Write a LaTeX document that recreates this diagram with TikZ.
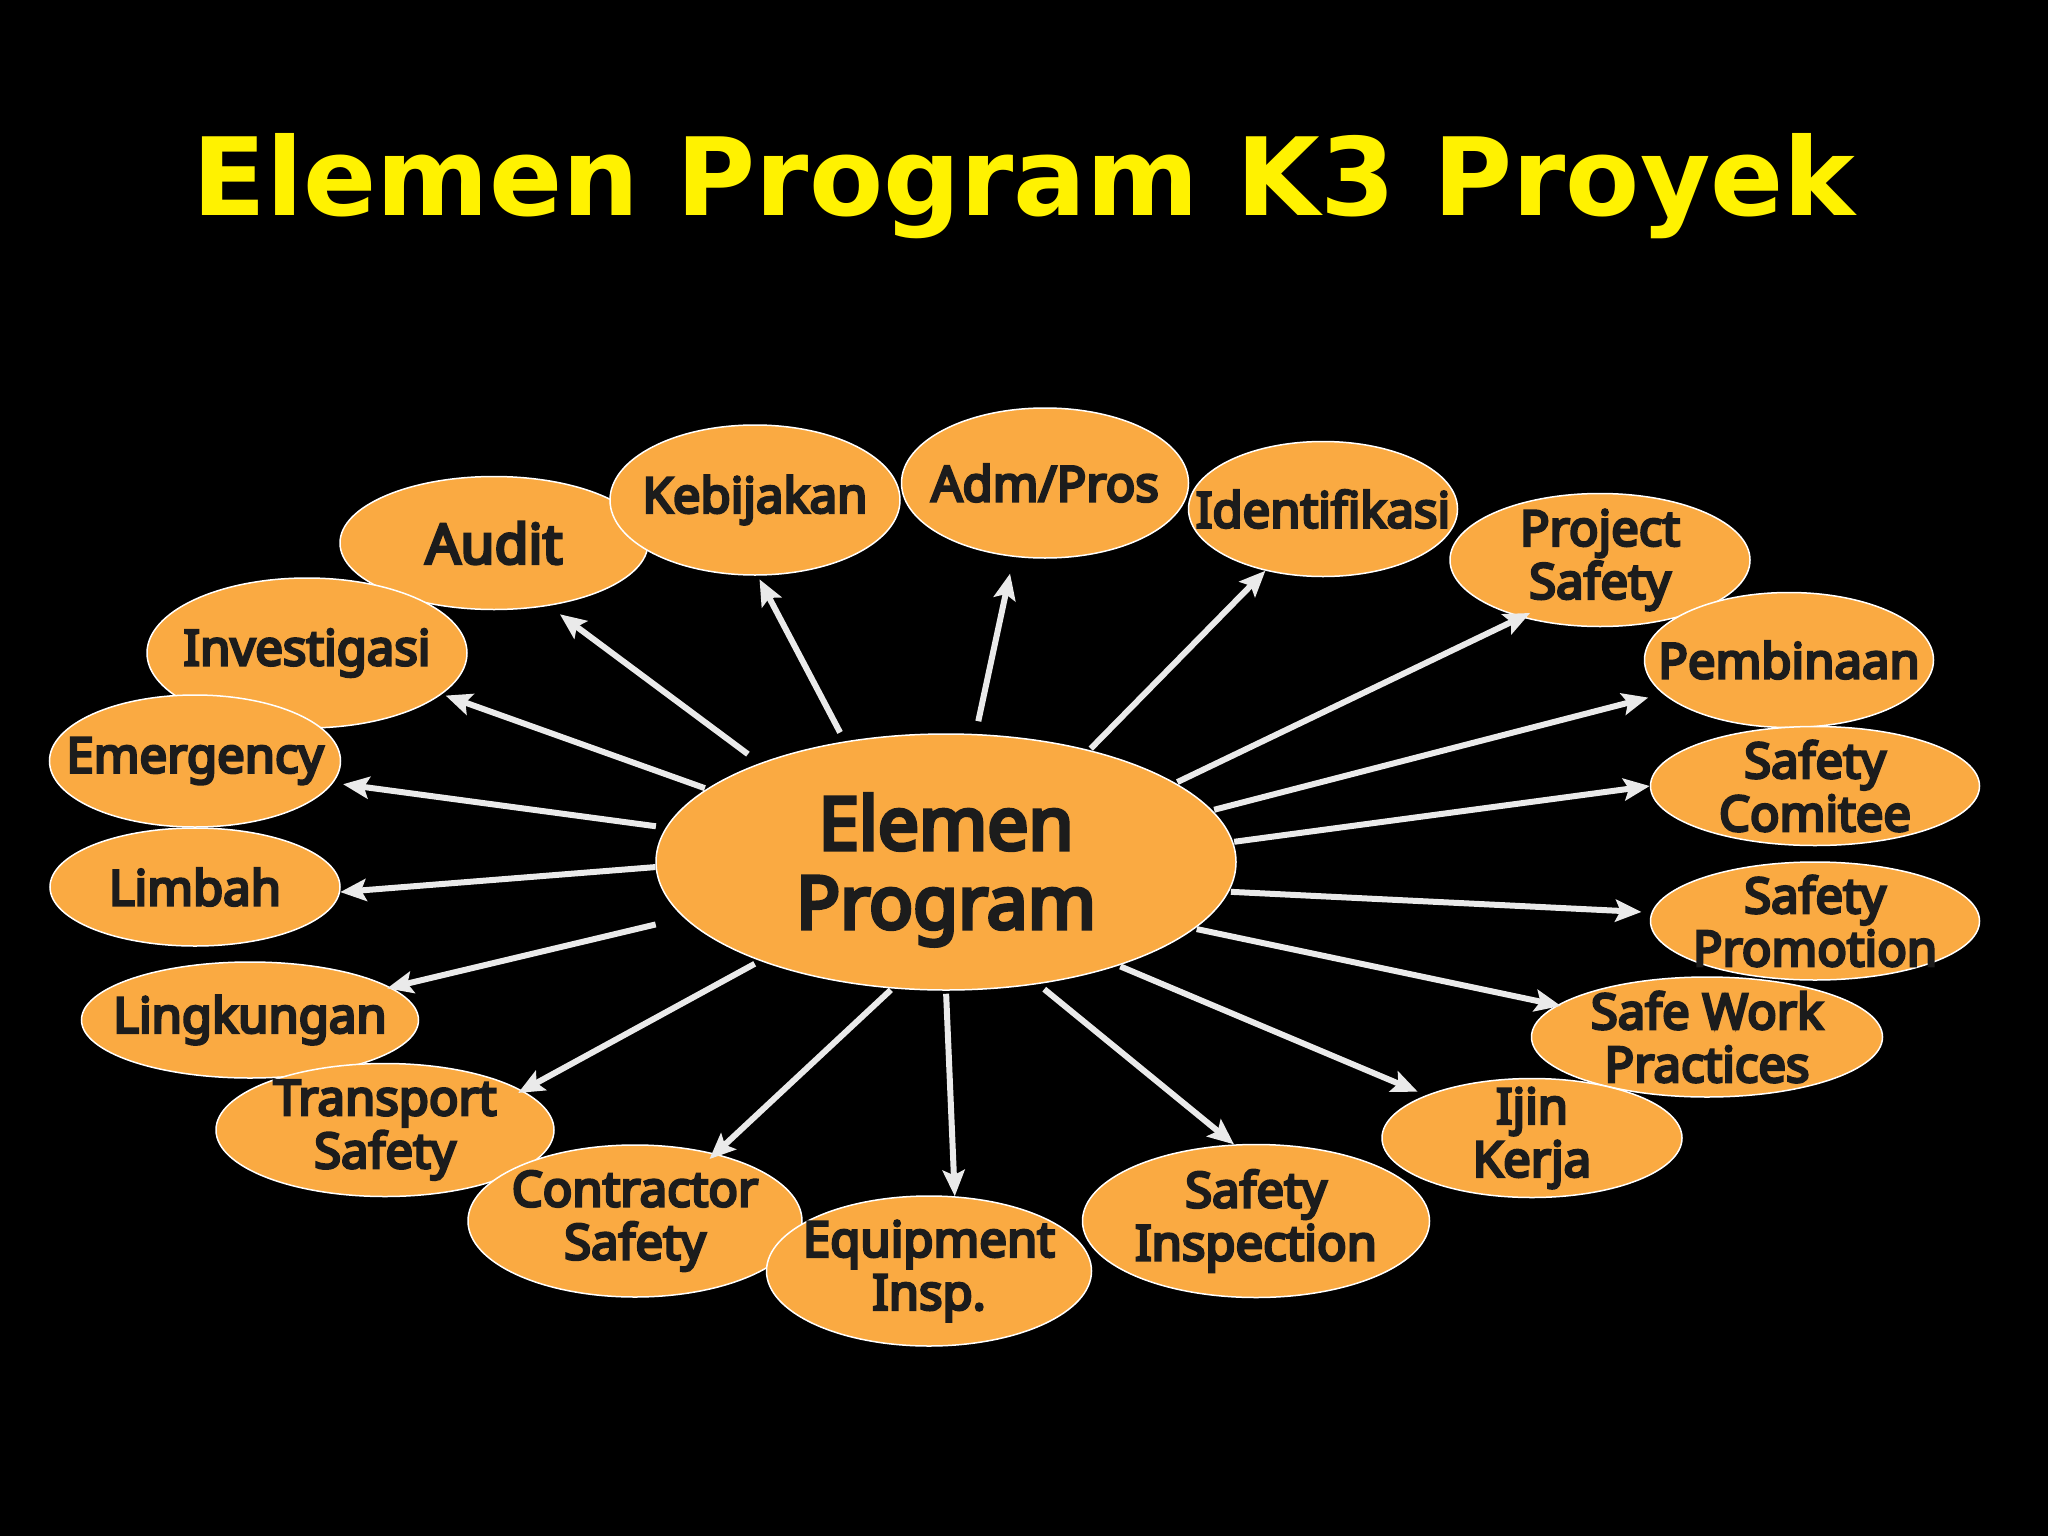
\documentclass[tikz,border=0pt]{standalone}
\usepackage{fontspec}
\setmainfont{Noto Sans}[AutoFakeBold=5.5]
\newfontfamily\titlefont{DejaVu Sans}
\usetikzlibrary{arrows.meta,shapes.geometric}

\definecolor{bubfill}{RGB}{250,170,66}
\definecolor{arrgray}{RGB}{234,234,234}
\definecolor{txtdark}{RGB}{28,28,28}

\tikzset{
  bub/.style={ellipse,draw=white,line width=1.5pt,fill=bubfill,inner sep=0pt},
  lbl/.style={align=center,text=txtdark,font=\bfseries\fontsize{49}{53}\selectfont},
  arr/.style={draw=arrgray,line width=6pt,-{Stealth[length=26pt,width=22pt,inset=5pt]}}
}

\begin{document}
\begin{tikzpicture}[x=1pt,y=-1pt]
\fill[black] (0,0) rectangle (2048,1536);
\useasboundingbox (0,0) rectangle (2048,1536);

\node[anchor=base,text=yellow,font=\titlefont\bfseries\fontsize{108}{120}\selectfont] (title) at (1024,215) {Elemen Program K3 Proyek};

% ring of elements
\node[bub,minimum width=308pt,minimum height=133pt] (audit) at (494,543) {};
\node[bub,minimum width=290pt,minimum height=150pt] (kebij) at (755,500) {};
\node[bub,minimum width=287pt,minimum height=150pt] (adm) at (1045,483) {};
\node[bub,minimum width=269pt,minimum height=135pt] (ident) at (1323,509) {};
\node[bub,minimum width=300pt,minimum height=133pt] (projsafe) at (1600,560) {};
\node[bub,minimum width=289pt,minimum height=135pt] (pembin) at (1789,660) {};
\node[bub,minimum width=329pt,minimum height=119pt] (comitee) at (1815,786) {};
\node[bub,minimum width=329pt,minimum height=118pt] (promo) at (1815,921) {};
\node[bub,minimum width=351pt,minimum height=120pt] (safework) at (1707,1037) {};
\node[bub,minimum width=300pt,minimum height=119pt] (ijin) at (1532,1138) {};
\node[bub,minimum width=347pt,minimum height=153pt] (inspect) at (1256,1221) {};
\node[bub,minimum width=320pt,minimum height=150pt] (invest) at (307,653) {};
\node[bub,minimum width=291pt,minimum height=132pt] (emerg) at (195,761) {};
\node[bub,minimum width=290pt,minimum height=118pt] (limbah) at (195,887) {};
\node[bub,minimum width=337pt,minimum height=116pt] (lingk) at (250,1020) {};
\node[bub,minimum width=338pt,minimum height=133pt] (transport) at (385,1130) {};
\node[bub,minimum width=334pt,minimum height=152pt] (contract) at (635,1221) {};
\node[bub,minimum width=325pt,minimum height=150pt] (equip) at (929,1271) {};

\node[bub,minimum width=580pt,minimum height=256pt] (core) at (946,862) {};

% labels
\foreach \n/\t in {audit/{\fontsize{55}{60}\selectfont Audit},kebij/Kebijakan,adm/{Adm/Pros},
    ident/Identifikasi,projsafe/{Project\\Safety},pembin/Pembinaan,comitee/{Safety\\Comitee},
    promo/{Safety\\Promotion},safework/{Safe Work\\Practices},ijin/{Ijin\\Kerja},
    inspect/{Safety\\Inspection},equip/{Equipment\\Insp.},contract/{Contractor\\Safety},
    transport/{Transport\\Safety},lingk/Lingkungan,limbah/Limbah,emerg/Emergency,invest/Investigasi}
  \node[lbl] (\n-t) at (\n) {\t};
\node[lbl,font=\bfseries\fontsize{73}{79}\selectfont] (core-t) at (946,870) {Elemen\\Program};

% arrows out of the core
\foreach \dst/\sa/\ea/\sg/\eg in {audit/152/-49/15/14,kebij/130/-88/10/4,adm/77/-113/13/17,
    ident/38/-133/2/0,projsafe/19/-144/2/-10,pembin/11/-165/2/15,comitee/4/180/1/0,
    promo/-6/177/2/10,safework/-15/168/2/-4,ijin/-31/158/2/9,inspect/-53/106/8/0,
    equip/-90/71/3/0,contract/-113/40/2/-8,transport/-152/16/6/-5,lingk/-168/13/29/-4,
    limbah/-179/-2/0/0,emerg/173/-9/10/10,invest/163/-17/2/4}
  \draw[arr,shorten <=\sg pt,shorten >=\eg pt] (core.\sa) -- (\dst.\ea);
\end{tikzpicture}
\end{document}
